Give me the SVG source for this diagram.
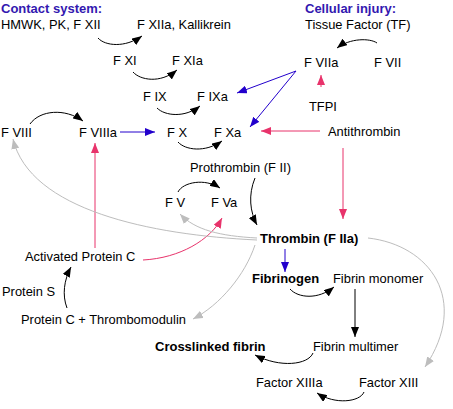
<svg xmlns="http://www.w3.org/2000/svg" width="453" height="409" viewBox="0 0 453 409">
<style>
text{font-family:"Liberation Sans",Arial,sans-serif;font-size:12.9px;fill:#000}
.b{font-weight:bold;font-size:13px}
.h{font-weight:bold;font-size:13px;fill:#3318b0}
.k{fill:none;stroke:#000;stroke-width:1}
.bl{fill:none;stroke:#2200cc;stroke-width:1}
.r{fill:none;stroke:#e8336b;stroke-width:1}
.g{fill:none;stroke:#bdbdbd;stroke-width:1}
</style>
<defs>
<marker id="ak" markerUnits="userSpaceOnUse" markerWidth="10" markerHeight="8" refX="10" refY="4" orient="auto"><path d="M0,0L10,4L0,8z" fill="#000"/></marker>
<marker id="ab" markerUnits="userSpaceOnUse" markerWidth="10" markerHeight="8" refX="10" refY="4" orient="auto"><path d="M0,0L10,4L0,8z" fill="#2200cc"/></marker>
<marker id="ar" markerUnits="userSpaceOnUse" markerWidth="10" markerHeight="8" refX="10" refY="4" orient="auto"><path d="M0,0L10,4L0,8z" fill="#e8336b"/></marker>
<marker id="ag" markerUnits="userSpaceOnUse" markerWidth="10" markerHeight="8" refX="10" refY="4" orient="auto"><path d="M0,0L10,4L0,8z" fill="#bdbdbd"/></marker>
</defs>
<g id="connectors">
<path class="k" marker-end="url(#ak)" d="M98,38 C105,46 125,48 142,36"/>
<path class="k" marker-end="url(#ak)" d="M133,72 C140,80 160,84 177,70"/>
<path class="k" marker-end="url(#ak)" d="M157,108 C165,116 185,118 200,106"/>
<path class="k" marker-end="url(#ak)" d="M178,142 C185,150 205,153 222,141"/>
<path class="k" marker-end="url(#ak)" d="M30,124 C40,110 65,108 83,121"/>
<path class="k" marker-end="url(#ak)" d="M178,192 C183,182 205,178 220,188"/>
<path class="k" marker-end="url(#ak)" d="M255,178 C248,195 250,212 257,225"/>
<path class="k" marker-end="url(#ak)" d="M377,43 C370,38 350,38 337,48"/>
<path class="k" marker-end="url(#ak)" d="M67,308 C62,295 64,280 71,267"/>
<path class="k" marker-end="url(#ak)" d="M290,289 C298,298 318,300 334,287"/>
<path class="k" marker-end="url(#ak)" d="M313,353 C308,365 280,368 255,355"/>
<path class="k" marker-end="url(#ak)" d="M364,392 C360,402 335,405 317,393"/>
<path class="k" marker-end="url(#ak)" d="M355,289 L355,337"/>
<path class="bl" marker-end="url(#ab)" d="M296,71 L237,93"/>
<path class="bl" marker-end="url(#ab)" d="M296,71 L250,127"/>
<path class="bl" marker-end="url(#ab)" d="M120,132 L155,132"/>
<path class="bl" marker-end="url(#ab)" d="M285,249 L285,272"/>
<path class="r" marker-end="url(#ar)" d="M320,131 L261,131"/>
<path class="r" marker-end="url(#ar)" d="M343,148 L343,219"/>
<path class="r" marker-end="url(#ar)" d="M321,87 L321,75"/>
<path class="r" marker-end="url(#ar)" d="M95,248 L95,143"/>
<path class="r" marker-end="url(#ar)" d="M143,260 C180,258 210,240 222,218"/>
<path class="g" marker-end="url(#ag)" d="M257,240 C150,235 30,210 13,139"/>
<path class="g" marker-end="url(#ag)" d="M257,238 C220,236 195,230 180,214"/>
<path class="g" marker-end="url(#ag)" d="M255,245 C245,275 220,305 193,319"/>
<path class="g" marker-end="url(#ag)" d="M368,238 C430,245 470,300 425,367"/>
</g>
<g id="contact-heading"><text class="h" x="1" y="13">Contact system:</text></g>
<g id="hmwk"><text x="1" y="29">HMWK, PK, F XII</text></g>
<g id="fxiia"><text x="137" y="29">F XIIa, Kallikrein</text></g>
<g id="cellular-heading"><text class="h" x="305" y="13">Cellular injury:</text></g>
<g id="tf"><text x="305" y="29">Tissue Factor (TF)</text></g>
<g id="fxi"><text x="113" y="65">F XI</text></g>
<g id="fxia"><text x="172" y="65">F XIa</text></g>
<g id="fviia"><text x="304" y="67">F VIIa</text></g>
<g id="fvii"><text x="374" y="67">F VII</text></g>
<g id="fix"><text x="143" y="101">F IX</text></g>
<g id="fixa"><text x="197" y="101">F IXa</text></g>
<g id="tfpi"><text x="309" y="111">TFPI</text></g>
<g id="fviii"><text x="1" y="137">F VIII</text></g>
<g id="fviiia"><text x="79" y="137">F VIIIa</text></g>
<g id="fx"><text x="167" y="137">F X</text></g>
<g id="fxa"><text x="214" y="137">F Xa</text></g>
<g id="antithrombin"><text x="328" y="136">Antithrombin</text></g>
<g id="prothrombin"><text x="190" y="172">Prothrombin (F II)</text></g>
<g id="fv"><text x="165" y="207">F V</text></g>
<g id="fva"><text x="211" y="207">F Va</text></g>
<g id="thrombin"><text class="b" x="260" y="243">Thrombin (F IIa)</text></g>
<g id="apc"><text x="25" y="261">Activated Protein C</text></g>
<g id="fibrinogen"><text class="b" x="252" y="283">Fibrinogen</text></g>
<g id="monomer"><text x="333" y="283">Fibrin monomer</text></g>
<g id="proteins"><text x="2" y="296">Protein S</text></g>
<g id="proteinc"><text x="21" y="324">Protein C + Thrombomodulin</text></g>
<g id="crosslinked"><text class="b" x="155" y="351">Crosslinked fibrin</text></g>
<g id="multimer"><text x="313" y="351">Fibrin multimer</text></g>
<g id="fxiiia"><text x="256" y="387">Factor XIIIa</text></g>
<g id="fxiii"><text x="359" y="387">Factor XIII</text></g>
</svg>
